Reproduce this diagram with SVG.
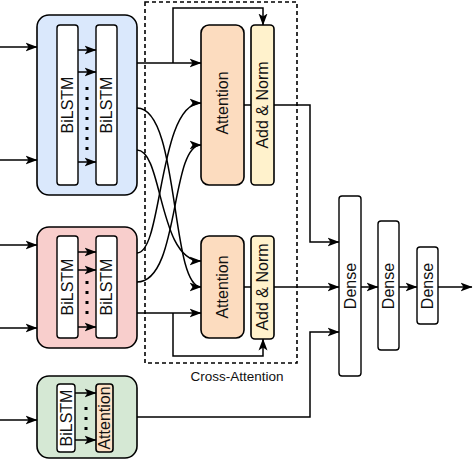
<svg xmlns="http://www.w3.org/2000/svg" width="474" height="462" viewBox="0 0 474 462">
<style>
.lbl{font-family:"Liberation Sans",Arial,sans-serif;font-size:16px;fill:#111;text-anchor:middle;dominant-baseline:central}
.box{stroke:#000;stroke-width:1.6}
.in{fill:#fff;stroke:#000;stroke-width:1.4}
.c{fill:none;stroke:#000;stroke-width:1.5}
.dots{fill:none;stroke:#000;stroke-width:3;stroke-dasharray:3,7}
</style>
<defs>
<marker id="ah" markerWidth="12" markerHeight="10" refX="11.5" refY="5" orient="auto" markerUnits="userSpaceOnUse">
<path d="M0,0.5 L12,5 L0,9.5 L3,5 z" fill="#000"/>
</marker>
</defs>
<rect width="474" height="462" fill="#fff"/>

<g id="cross-attention-frame">
<rect x="145" y="2" width="152" height="361" fill="none" stroke="#000" stroke-width="1.6" stroke-dasharray="4,3"/>
<text x="237" y="376" class="lbl" style="font-size:13.5px">Cross-Attention</text>
</g>

<g id="blue-block">
<rect class="box" x="37" y="15" width="100" height="180" rx="12" fill="#dae8fc"/>
<rect class="in" x="57" y="25" width="21" height="160" rx="3"/>
<rect class="in" x="96" y="25" width="21" height="160" rx="3"/>
<text class="lbl" transform="translate(67.5,105) rotate(-90)">BiLSTM</text>
<text class="lbl" transform="translate(106.5,105) rotate(-90)">BiLSTM</text>
<line class="c" x1="78" y1="50" x2="96" y2="50" marker-end="url(#ah)"/>
<line class="c" x1="78" y1="72" x2="96" y2="72" marker-end="url(#ah)"/>
<line class="c" x1="78" y1="162" x2="96" y2="162" marker-end="url(#ah)"/>
<line class="dots" x1="87" y1="87" x2="87" y2="150"/>
</g>

<g id="pink-block">
<rect class="box" x="37" y="227" width="100" height="121" rx="12" fill="#f8cecc"/>
<rect class="in" x="57" y="236" width="21" height="102" rx="3"/>
<rect class="in" x="96" y="236" width="21" height="102" rx="3"/>
<text class="lbl" transform="translate(67.5,287) rotate(-90)">BiLSTM</text>
<text class="lbl" transform="translate(106.5,287) rotate(-90)">BiLSTM</text>
<line class="c" x1="78" y1="252" x2="96" y2="252" marker-end="url(#ah)"/>
<line class="c" x1="78" y1="270" x2="96" y2="270" marker-end="url(#ah)"/>
<line class="c" x1="78" y1="327" x2="96" y2="327" marker-end="url(#ah)"/>
<line class="dots" x1="87" y1="281" x2="87" y2="318"/>
</g>

<g id="green-block">
<rect class="box" x="37" y="376" width="100" height="82" rx="12" fill="#d5e8d4"/>
<rect class="in" x="57" y="384" width="18" height="68" rx="3"/>
<rect class="box" x="96" y="384" width="17" height="68" rx="3" fill="#fce1c6" stroke-width="1.4"/>
<text class="lbl" transform="translate(66,418) rotate(-90)">BiLSTM</text>
<text class="lbl" transform="translate(104.5,418) rotate(-90)">Attention</text>
<line class="c" x1="75" y1="393" x2="96" y2="393" marker-end="url(#ah)"/>
<line class="c" x1="75" y1="440" x2="96" y2="440" marker-end="url(#ah)"/>
<line class="dots" x1="86" y1="407" x2="86" y2="432"/>
</g>

<g id="attention-top">
<rect class="box" x="201" y="25" width="43" height="160" rx="8" fill="#fcdcbf"/>
<text class="lbl" transform="translate(222.5,103) rotate(-90)">Attention</text>
</g>
<g id="addnorm-top">
<rect class="box" x="251" y="25" width="23" height="160" rx="4" fill="#fff2cc"/>
<text class="lbl" transform="translate(262.5,105) rotate(-90)">Add &amp; Norm</text>
</g>
<g id="attention-bottom">
<rect class="box" x="201" y="236" width="43" height="102" rx="8" fill="#fcdcbf"/>
<text class="lbl" transform="translate(222.5,287) rotate(-90)">Attention</text>
</g>
<g id="addnorm-bottom">
<rect class="box" x="251" y="236" width="23" height="103" rx="4" fill="#fff2cc"/>
<text class="lbl" transform="translate(262.5,287) rotate(-90)">Add &amp; Norm</text>
</g>

<g id="dense-1">
<rect class="in" x="339" y="196" width="22" height="180" rx="3" stroke-width="1.5"/>
<text class="lbl" transform="translate(350,286) rotate(-90)">Dense</text>
</g>
<g id="dense-2">
<rect class="in" x="378" y="221" width="21" height="129" rx="3" stroke-width="1.5"/>
<text class="lbl" transform="translate(388.5,286) rotate(-90)">Dense</text>
</g>
<g id="dense-3">
<rect class="in" x="417" y="247" width="21" height="77" rx="3" stroke-width="1.5"/>
<text class="lbl" transform="translate(427.5,286) rotate(-90)">Dense</text>
</g>

<g id="connectors">
<line class="c" x1="0" y1="47" x2="37" y2="47" marker-end="url(#ah)"/>
<line class="c" x1="0" y1="160" x2="37" y2="160" marker-end="url(#ah)"/>
<line class="c" x1="0" y1="245" x2="37" y2="245" marker-end="url(#ah)"/>
<line class="c" x1="0" y1="328" x2="37" y2="328" marker-end="url(#ah)"/>
<line class="c" x1="0" y1="420" x2="37" y2="420" marker-end="url(#ah)"/>

<line class="c" x1="137" y1="63" x2="201" y2="63" marker-end="url(#ah)"/>
<path class="c" d="M173,63V8H263V25" marker-end="url(#ah)"/>
<line class="c" x1="137" y1="313" x2="201" y2="313" marker-end="url(#ah)"/>
<path class="c" d="M173,313V356H263V339" marker-end="url(#ah)"/>

<path class="c" d="M137,108C180,108 170,287 201,287" marker-end="url(#ah)"/>
<path class="c" d="M137,150C163,150 158,261 201,261" marker-end="url(#ah)"/>
<path class="c" d="M137,253C163,253 158,103 201,103" marker-end="url(#ah)"/>
<path class="c" d="M137,282C180,282 170,145 201,145" marker-end="url(#ah)"/>

<line class="c" x1="244" y1="105" x2="251" y2="105"/>
<line class="c" x1="244" y1="287" x2="251" y2="287"/>
<path class="c" d="M274,105H310V242H339" marker-end="url(#ah)"/>
<line class="c" x1="274" y1="287" x2="339" y2="287" marker-end="url(#ah)"/>
<path class="c" d="M137,417H310V332H339" marker-end="url(#ah)"/>

<line class="c" x1="361" y1="287" x2="378" y2="287" marker-end="url(#ah)"/>
<line class="c" x1="399" y1="287" x2="417" y2="287" marker-end="url(#ah)"/>
<line class="c" x1="438" y1="287" x2="472" y2="287" marker-end="url(#ah)"/>
</g>
</svg>
